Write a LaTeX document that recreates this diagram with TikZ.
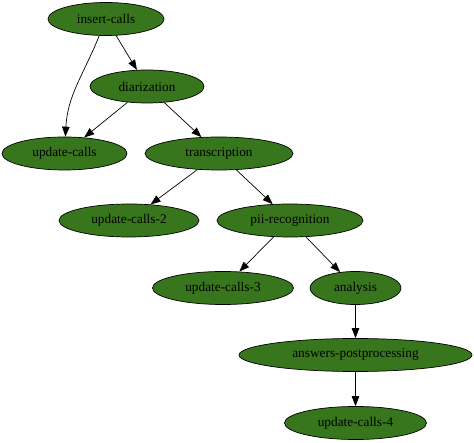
\documentclass[tikz,border=0pt]{standalone}
\usepackage{fontspec}
\setmainfont{Liberation Serif}
\usetikzlibrary{arrows.meta,shapes.geometric}
\definecolor{nodegreen}{HTML}{38761D}
\begin{document}
\begin{tikzpicture}[x=1pt,y=-1pt,
  job/.style={ellipse,draw=black,fill=nodegreen,line width=0.7pt,inner sep=0pt,minimum height=33pt,font=\fontsize{13.3}{15}\selectfont},
  edge/.style={-{Triangle[length=10pt,width=7.5pt]},line width=0.7pt}]
\useasboundingbox (0,0) rectangle (474,443);
\node[job,minimum width=116pt] (ic) at (106,19) {insert-calls};
\node[job,minimum width=114pt] (di) at (147,86.5) {diarization};
\node[job,minimum width=125pt] (uc) at (64.5,153.5) {update-calls};
\node[job,minimum width=148pt] (tr) at (219,153.5) {transcription};
\node[job,minimum width=140pt] (uc2) at (129,220.5) {update-calls-2};
\node[job,minimum width=146pt] (pii) at (290,220.5) {pii-recognition};
\node[job,minimum width=141pt] (uc3) at (223,288) {update-calls-3};
\node[job,minimum width=91pt] (an) at (355.5,288) {analysis};
\node[job,minimum width=233pt] (ap) at (355.5,355) {answers-postprocessing};
\node[job,minimum width=142pt] (uc4) at (355.5,423) {update-calls-4};
\draw[edge] (ic) -- (di);
\draw[edge] (ic) to[out=-112,in=87] (uc);
\draw[edge] (di) -- (uc);
\draw[edge] (di) -- (tr);
\draw[edge] (tr) -- (uc2);
\draw[edge] (tr) -- (pii);
\draw[edge] (pii) -- (uc3);
\draw[edge] (pii) -- (an);
\draw[edge] (an) -- (ap);
\draw[edge] (ap) -- (uc4);
\end{tikzpicture}
\end{document}
